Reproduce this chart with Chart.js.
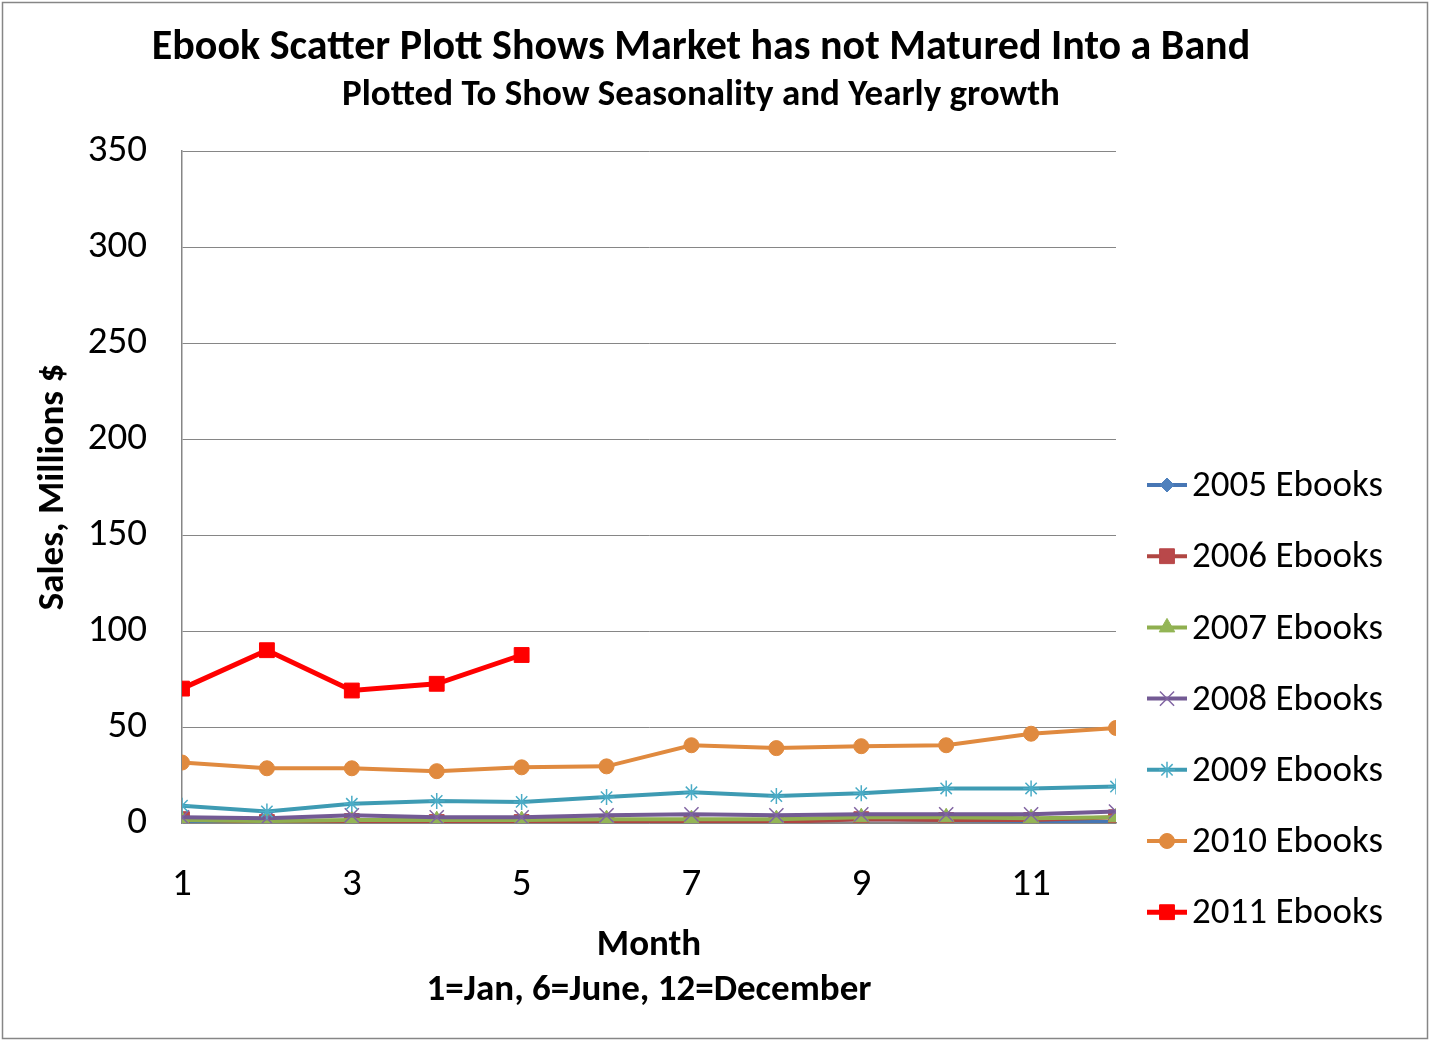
<!DOCTYPE html>
<html>
<head>
<meta charset="utf-8">
<title>Ebook Scatter Plott</title>
<script src="https://cdn.jsdelivr.net/npm/chart.js@4.4.1/dist/chart.umd.min.js"></script>
<style>
  html, body { margin: 0; padding: 0; background: #fff; }
  #wrap { position: relative; width: 1430px; height: 1041px; }
</style>
</head>
<body>
<div id="wrap"><canvas id="ebookChart"></canvas></div>
<script>
// values (millions $ per month)
const months = [1, 2, 3, 4, 5, 6, 7, 8, 9, 10, 11, 12];
const xTicks = [1, 3, 5, 7, 9, 11];
const yTicks = [0, 50, 100, 150, 200, 250, 300, 350];

const seriesNames = ['2005 Ebooks', '2006 Ebooks', '2007 Ebooks', '2008 Ebooks',
  '2009 Ebooks', '2010 Ebooks', '2011 Ebooks'];

const sales2005 = [1, 0.7, 0.3, 0.8, 0.8, 1, 1, 1, 2, 1.5, 1, 0.5];
const sales2006 = [2, 0.5, 1, 0.5, 0.5, 0.5, 0.5, 0.5, 2, 1.5, 1.5, 3];
const sales2007 = [1.5, 1, 1.5, 1.5, 1.5, 2, 2, 2, 3, 3, 2.5, 3];
const sales2008 = [3, 2.5, 4, 3, 3, 4, 4.5, 4, 4.5, 4.5, 4.5, 6];
const sales2009 = [9, 6, 10, 11.5, 11, 13.5, 16, 14, 15.5, 18, 18, 19];
const sales2010 = [31.5, 28.5, 28.5, 27, 29, 29.5, 40.5, 39, 40, 40.5, 46.5, 49.5];
const sales2011 = [70, 90, 69, 72.5, 87.5];

const FONT = 'Carlito, Lato, sans-serif';

const styles = [
  { line: '#4776B4', fill: '#4F81BD', point: 'rectRot', r: 7, w: 4 },
  { line: '#B04642', fill: '#B9484A', point: 'rect', r: 10.5, w: 4 },
  { line: '#8FAF4F', fill: '#93B555', point: 'triangle', r: 9, w: 4 },
  { line: '#735A94', fill: '#8064A2', point: 'crossRot', r: 10, w: 4 },
  { line: '#3E9BB3', fill: '#4BACC6', point: 'star', r: 8, w: 4 },
  { line: '#E08A3F', fill: '#E08A3F', point: 'circle', r: 7.5, w: 4 },
  { line: '#FF0000', fill: '#FF0000', point: 'rect', r: 10.5, w: 5 }
];

const allSales = [sales2005, sales2006, sales2007, sales2008, sales2009, sales2010, sales2011];

const datasets = allSales.map((vals, i) => {
  const s = styles[i];
  const open = s.point === 'crossRot' || s.point === 'star';
  return {
    label: seriesNames[i],
    data: vals.map((v, j) => ({ x: months[j], y: v })),
    borderColor: s.line,
    borderWidth: s.w,
    backgroundColor: s.fill,
    pointStyle: s.point,
    pointRadius: s.r,
    pointBackgroundColor: s.fill,
    pointBorderColor: s.fill,
    pointBorderWidth: open ? 1.5 : 1,
    tension: 0,
    fill: false,
    order: allSales.length - i
  };
});

// thin frame round the whole chart
const frame = {
  id: 'frame',
  beforeDraw(chart) {
    const ctx = chart.ctx;
    ctx.save();
    ctx.fillStyle = '#fff';
    ctx.fillRect(0, 0, chart.width, chart.height);
    ctx.strokeStyle = '#868686';
    ctx.lineWidth = 1.5;
    ctx.strokeRect(2.5, 2.5, chart.width - 5, chart.height - 5);
    ctx.restore();
  }
};

// legend drawn as line + marker like the original
const lineLegend = {
  id: 'lineLegend',
  afterDraw(chart) {
    const ctx = chart.ctx;
    const left = chart.chartArea.right + 31;
    const top = 487;
    const step = 71.2;
    ctx.save();
    chart.data.datasets.forEach((ds, i) => {
      const y = top + i * step;
      ctx.strokeStyle = ds.borderColor;
      ctx.lineWidth = ds.borderWidth;
      ctx.beginPath();
      ctx.moveTo(left, y - 2);
      ctx.lineTo(left + 40, y - 2);
      ctx.stroke();
      ctx.fillStyle = ds.pointBackgroundColor;
      ctx.strokeStyle = ds.pointBorderColor;
      ctx.lineWidth = ds.pointBorderWidth;
      Chart.helpers.drawPoint(ctx, {
        pointStyle: ds.pointStyle,
        radius: ds.pointRadius,
        borderWidth: ds.pointBorderWidth,
        rotation: 0
      }, left + 20, y - 2);
      ctx.fillStyle = '#000';
      ctx.font = '37px ' + FONT;
      ctx.textAlign = 'left';
      ctx.textBaseline = 'middle';
      ctx.fillText(ds.label, left + 45, y);
    });
    ctx.restore();
  }
};

new Chart(document.getElementById('ebookChart'), {
  type: 'line',
  data: { datasets },
  plugins: [frame, lineLegend],
  options: {
    responsive: true,
    maintainAspectRatio: false,
    animation: false,
    layout: { padding: { left: 0, right: 28, top: 0, bottom: 0 } },
    plugins: {
      legend: { display: false },
      tooltip: { enabled: false },
      title: {
        display: true,
        text: 'Ebook Scatter Plott Shows Market has not Matured Into a Band',
        color: '#000',
        font: { family: FONT, size: 42, weight: 'bold' },
        padding: { top: 22.8, bottom: 0.6 }
      },
      subtitle: {
        display: true,
        text: 'Plotted To Show Seasonality and Yearly growth',
        color: '#000',
        font: { family: FONT, size: 37, weight: 'bold' },
        padding: { top: 0, bottom: 32.8 }
      }
    },
    scales: {
      x: {
        type: 'linear',
        min: 1,
        max: 12,
        afterBuildTicks: s => { s.ticks = xTicks.map(v => ({ value: v })); },
        afterFit: s => { s.height = 218; },
        grid: { display: false, drawTicks: false },
        border: { display: true, color: '#868686', width: 1.5 },
        ticks: { color: '#000', font: { family: FONT, size: 39 }, padding: 38.5 },
        title: {
          display: true,
          text: ['Month', '1=Jan, 6=June, 12=December'],
          color: '#000',
          font: { family: FONT, size: 37, weight: 'bold', lineHeight: 1.216 },
          padding: { top: 0, bottom: 27.5 }
        }
      },
      y: {
        type: 'linear',
        min: 0,
        max: 350,
        afterBuildTicks: s => { s.ticks = yTicks.map(v => ({ value: v })); },
        afterFit: s => { s.width = 182; },
        grid: { color: '#868686', lineWidth: 1, drawTicks: false },
        border: { display: true, color: '#868686', width: 1.5 },
        ticks: { color: '#000', font: { family: FONT, size: 39 }, padding: 35 },
        title: {
          display: true,
          text: 'Sales, Millions $',
          color: '#000',
          font: { family: FONT, size: 37, weight: 'bold' },
          padding: { top: 31.8, bottom: 0 }
        }
      },
      legendSpace: {
        type: 'linear',
        position: 'right',
        display: true,
        afterFit: s => { s.width = 286; },
        grid: { display: false },
        border: { display: false },
        ticks: { display: false }
      }
    }
  }
});
</script>
</body>
</html>
